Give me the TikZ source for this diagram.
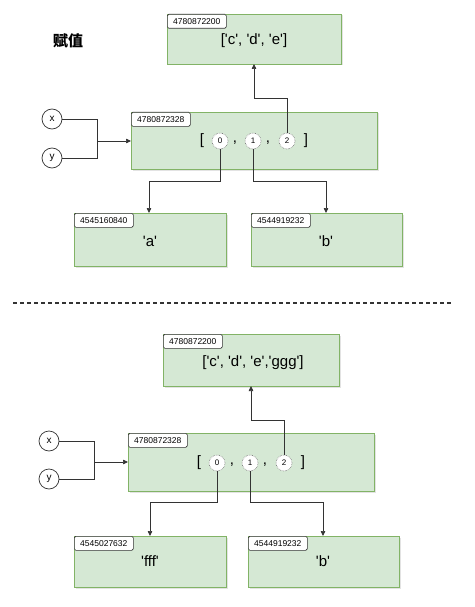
\documentclass[tikz,border=0pt]{standalone}
\usepackage{fontspec}
\setmainfont{Liberation Sans}[Ligatures=TeXOff]
\newfontfamily\cjk{Noto Sans CJK SC}
\usetikzlibrary{arrows.meta,shadows}
\definecolor{gfill}{HTML}{D5E8D4}
\definecolor{gdraw}{HTML}{82B366}
\definecolor{ink}{HTML}{333333}
\tikzset{
  membox/.style={draw=gdraw, fill=gfill, line width=0.9pt, inner sep=0pt, outer sep=0pt,
    drop shadow={opacity=0.22, shadow xshift=1.5pt, shadow yshift=-1.5pt}},
  addr/.style={draw=ink, fill=white, rounded corners=1.5pt, line width=0.6pt, inner sep=0pt,
    minimum height=14pt, minimum width=59pt, anchor=north west, font=\fontsize{8.5}{9}\selectfont},
  val/.style={font=\fontsize{15}{17}\selectfont, inner sep=0pt},
  idx/.style={circle, draw=ink!70, densely dotted, fill=white, minimum size=16pt, inner sep=0pt,
    line width=0.6pt, font=\fontsize{8}{9}\selectfont},
  var/.style={circle, draw=ink, fill=white, minimum size=20pt, inner sep=0pt, line width=0.7pt,
    font=\fontsize{10}{11}\selectfont},
  conn/.style={draw=ink, line width=0.7pt},
  arr/.style={conn, -{Triangle[length=5pt,width=4.5pt]}},
}
\begin{document}
\begin{tikzpicture}[x=1pt,y=-1pt]
\useasboundingbox (0,0) rectangle (474,607);
\fill[white] (0,0) rectangle (474,607);

% title
\node[font=\cjk\bfseries\fontsize{15}{17}\selectfont] (title) at (68,41) {赋值};

% ===== top section =====
\node[membox, minimum width=174pt, minimum height=50pt] (A) at (254,39) {};
\node[addr] (Aa) at (167,14) {4780872200};
\node[val] (Av) at (254,41) {['c', 'd', 'e']};

\node[membox, minimum width=246pt, minimum height=57pt] (M) at (254,140.5) {};
\node[addr] (Ma) at (131,112) {4780872328};
\node[val] at (202,141) (Mlb) {[};
\node[val] at (306,141) (Mrb) {]};
\node[val] at (235,143) (Mc1) {,};
\node[val] at (268,143) (Mc2) {,};
\node[idx] (i0) at (220,141) {0};
\node[idx] (i1) at (253,141) {1};
\node[idx] (i2) at (287,141) {2};

\node[membox, minimum width=152pt, minimum height=53pt] (B1) at (150,239.5) {};
\node[addr] (B1a) at (74,213) {4545160840};
\node[val] (B1v) at (150,241) {'a'};

\node[membox, minimum width=151pt, minimum height=53pt] (B2) at (326.5,239.5) {};
\node[addr] (B2a) at (251,213) {4544919232};
\node[val] (B2v) at (326,241) {'b'};

\node[var] (x1) at (52,119) {x};
\node[var] (y1) at (52,158) {y};
\coordinate (j1) at (97,141);

\draw[conn] (x1.east) -| (j1);
\draw[conn] (y1.east) -| (j1);
\draw[arr] (j1) -- (M.west |- j1);
\draw[arr] (i2.north) |- (254,98) -- (A.south -| 254,0);
\draw[arr] (i0.south) |- (149,181) -- (B1.north -| 149,0);
\draw[arr] (i1.south) |- (326,181) -- (B2.north -| 326,0);

% separator
\coordinate (s1) at (13,303);
\coordinate (s2) at (453,303);
\draw[ink, line width=1.4pt, dash pattern=on 4pt off 3pt] (s1) -- (s2);

% ===== bottom section =====
\node[membox, minimum width=176pt, minimum height=52pt] (C) at (251,360) {};
\node[addr] (Ca) at (163,334) {4780872200};
\node[val] (Cv) at (253,363) {['c', 'd', 'e','ggg']};

\node[membox, minimum width=246pt, minimum height=58pt] (N) at (251,462) {};
\node[addr] (Na) at (128,433) {4780872328};
\node[val] at (199,463) (Nlb) {[};
\node[val] at (303,463) (Nrb) {]};
\node[val] at (232,465) (Nc1) {,};
\node[val] at (265,465) (Nc2) {,};
\node[idx] (k0) at (217,463) {0};
\node[idx] (k1) at (250,463) {1};
\node[idx] (k2) at (284,463) {2};

\node[membox, minimum width=152pt, minimum height=51pt] (D1) at (150,561.5) {};
\node[addr] (D1a) at (74,536) {4545027632};
\node[val] (D1v) at (150,561) {'fff'};

\node[membox, minimum width=151pt, minimum height=51pt] (D2) at (323.5,561.5) {};
\node[addr] (D2a) at (248,536) {4544919232};
\node[val] (D2v) at (323,561) {'b'};

\node[var] (x2) at (49,441) {x};
\node[var] (y2) at (49,479) {y};
\coordinate (j2) at (94,462);

\draw[conn] (x2.east) -| (j2);
\draw[conn] (y2.east) -| (j2);
\draw[arr] (j2) -- (N.west |- j2);
\draw[arr] (k2.north) |- (251,420) -- (C.south -| 251,0);
\draw[arr] (k0.south) |- (150,502) -- (D1.north -| 150,0);
\draw[arr] (k1.south) |- (323,502) -- (D2.north -| 323,0);
\end{tikzpicture}
\end{document}
